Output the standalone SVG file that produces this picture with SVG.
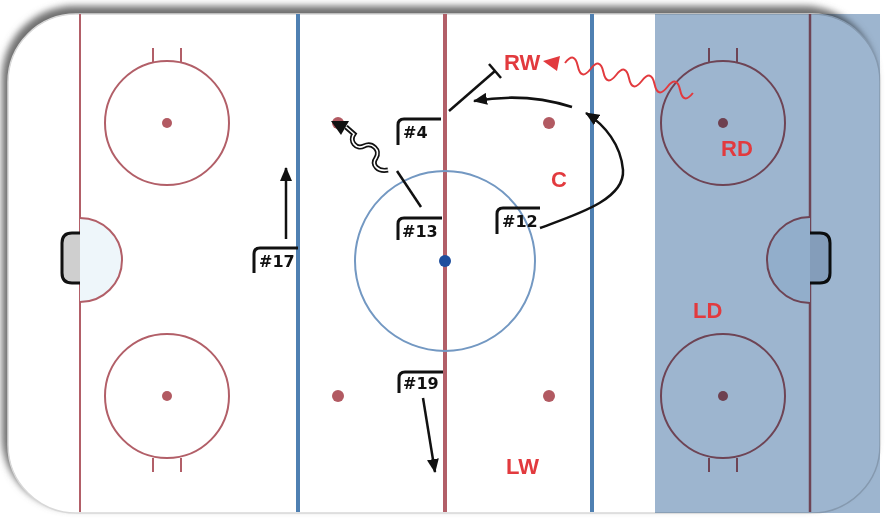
<svg xmlns="http://www.w3.org/2000/svg" width="886" height="525" viewBox="0 0 886 525">
<style>
.red{stroke:#b25f68;fill:none}
.blu{stroke:#4f80b2;fill:none}
.dot{fill:#b25a62}
.ink{stroke:#111;stroke-width:2.5;fill:none}
.brk{stroke:#111;stroke-width:3;fill:none;stroke-linejoin:round}
.num{font-family:"DejaVu Sans",Verdana,sans-serif;font-weight:bold;font-size:16px;fill:#111}
.pos{font-family:"Liberation Sans",Arial,sans-serif;font-weight:bold;font-size:22px;fill:#e23a3e}
</style>
<defs>
<filter id="sh" x="-5%" y="-5%" width="110%" height="110%"><feGaussianBlur stdDeviation="3.5"/></filter>
<marker id="ah" markerUnits="userSpaceOnUse" markerWidth="14" markerHeight="12" refX="13" refY="6" orient="auto"><path d="M0,0 L14,6 L0,12 z" fill="#111"/></marker>
</defs>
<rect width="886" height="525" fill="#fff"/>
<g id="rink">
<rect x="2" y="6" width="874" height="503" rx="72" fill="#707070" filter="url(#sh)"/>
<rect x="8" y="14" width="872" height="499" rx="68" fill="#fff" stroke="#d8d8d8" stroke-width="1.5"/>
<line x1="80" y1="14" x2="80" y2="512" class="red" stroke-width="2"/>
<line x1="810" y1="14" x2="810" y2="512" class="red" stroke-width="2.5"/>
<line x1="445" y1="14" x2="445" y2="512" class="red" stroke-width="4"/>
<line x1="298" y1="14" x2="298" y2="512" class="blu" stroke-width="4"/>
<line x1="592" y1="14" x2="592" y2="512" class="blu" stroke-width="4"/>
<circle cx="445" cy="261" r="90" fill="none" stroke="#7398c2" stroke-width="2"/>
<g class="red" stroke-width="2">
<circle cx="167" cy="123" r="62"/><path d="M153,48V62M181,48V62"/>
<circle cx="167" cy="396" r="62"/><path d="M153,458V472M181,458V472"/>
<circle cx="723" cy="123" r="62"/><path d="M709,48V62M737,48V62"/>
<circle cx="723" cy="396" r="62"/><path d="M709,458V472M737,458V472"/>
<path d="M80,218 A42,42 0 0 1 80,302" fill="#eef6fa"/>
<path d="M810,217 A43,43 0 0 0 810,303" fill="#eef6fa"/>
</g>
<g class="dot">
<circle cx="167" cy="123" r="5"/><circle cx="167" cy="396" r="5"/>
<circle cx="723" cy="123" r="5"/><circle cx="723" cy="396" r="5"/>
<circle cx="338" cy="123" r="6"/><circle cx="549" cy="123" r="6"/>
<circle cx="338" cy="396" r="6"/><circle cx="549" cy="396" r="6"/>
</g>
<circle cx="445" cy="261" r="6" fill="#1f4f9e"/>
<path d="M80,233 H72 Q62,233 62,243 V273 Q62,283 72,283 H80" fill="#cfcfcf" stroke="#111" stroke-width="3"/>
<path d="M810,233 H820 Q830,233 830,243 V273 Q830,283 820,283 H810" fill="#d6dde6" stroke="#111" stroke-width="3"/>
<rect x="655" y="14" width="225" height="499" fill="#9db5cf" style="mix-blend-mode:multiply"/>
</g>
<g id="connectors">
<line x1="286" y1="239" x2="286" y2="168" class="ink" marker-end="url(#ah)"/>
<line x1="423" y1="398" x2="435" y2="472" class="ink" marker-end="url(#ah)"/>
<line x1="449" y1="111" x2="495" y2="71" class="ink"/>
<line x1="489" y1="64" x2="501" y2="78" class="ink"/>
<line x1="421" y1="207" x2="397" y2="171" class="ink"/>
<path d="M388,170 C378,172 371,165 376,158 C381,150 372,142 364,146 C356,150 349,141 354,134 L346,127" fill="none" stroke="#111" stroke-width="5"/>
<path d="M388,170 C378,172 371,165 376,158 C381,150 372,142 364,146 C356,150 349,141 354,134 L346,127" fill="none" stroke="#fff" stroke-width="1.6"/>
<polygon points="331,121 349,121 341,135" fill="#111"/>
<path d="M540,228 C575,215 625,200 623,170 C621,145 605,125 586,113" class="ink" marker-end="url(#ah)"/>
<path d="M572,107 Q525,92 474,101" class="ink" marker-end="url(#ah)"/>
<path d="M565,63 Q574.59,50.88 577.79,66 Q581,81.12 590.58,69 Q600.17,56.88 603.37,72 Q606.58,87.12 616.16,75 Q625.75,62.88 628.95,78 Q632.16,93.12 641.74,81 Q651.33,68.88 654.53,84 Q657.74,99.12 667.32,87 Q676.91,74.88 680.11,90 Q683.32,105.12 692.9,93" fill="none" stroke="#e23a3e" stroke-width="2"/>
<polygon points="543,61 560,56 557,71" fill="#e23a3e"/>
</g>
<g id="p4"><path d="M398,145 V125 Q398,119 404,119 H441" class="brk"/><text x="403" y="138" class="num">#4</text></g>
<g id="p13"><path d="M398,240 V224 Q398,218 404,218 H442" class="brk"/><text x="402" y="237" class="num">#13</text></g>
<g id="p12"><path d="M497,234 V214 Q497,208 503,208 H540" class="brk"/><text x="502" y="227" class="num">#12</text></g>
<g id="p17"><path d="M254,273 V254 Q254,248 260,248 H298" class="brk"/><text x="259" y="267" class="num">#17</text></g>
<g id="p19"><path d="M399,393 V378 Q399,372 405,372 H443" class="brk"/><text x="403" y="389" class="num">#19</text></g>
<g id="rw"><text x="504" y="70" class="pos">RW</text></g>
<g id="c"><text x="551" y="187" class="pos">C</text></g>
<g id="rd"><text x="721" y="156" class="pos">RD</text></g>
<g id="ld"><text x="693" y="318" class="pos">LD</text></g>
<g id="lw"><text x="506" y="474" class="pos">LW</text></g>
</svg>
